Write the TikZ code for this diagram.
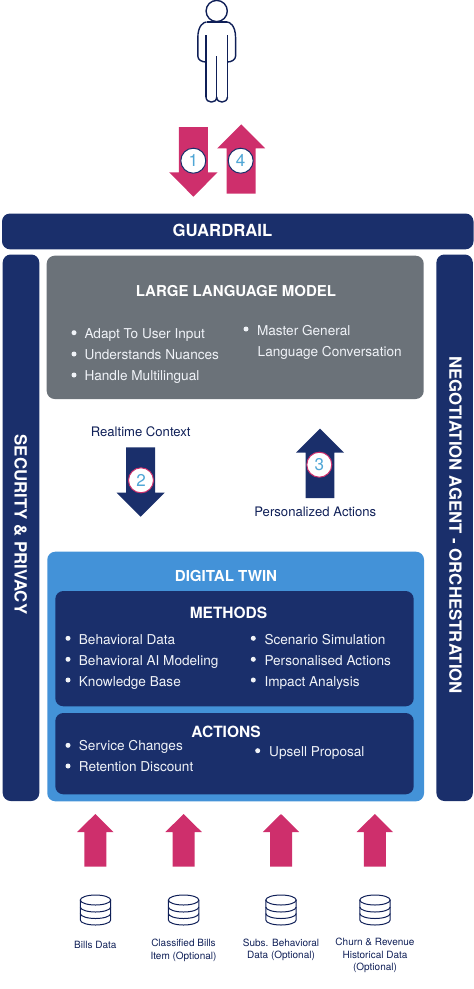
\documentclass[tikz,border=0pt]{standalone}
\usepackage{fontspec}
\setmainfont{TeX Gyre Heros}
\definecolor{navy}{HTML}{1A2F6B}
\definecolor{pinkc}{HTML}{CE2F6C}
\definecolor{grayc}{HTML}{6B7279}
\definecolor{bluec}{HTML}{4392D8}
\definecolor{numc}{HTML}{4FA6D6}
\definecolor{inkc}{HTML}{0F1F57}
\definecolor{softw}{HTML}{F0F3F8}
\tikzset{
 panel/.style={fill=#1,draw=none,rounded corners=8pt},
 lbl/.style={inner sep=0pt,anchor=base,text=inkc,font=\fontsize{13.1}{15}\selectfont},
 blt/.style={inner sep=0pt,anchor=base west,text=softw,font=\fontsize{13.6}{16}\selectfont},
 ttl/.style={inner sep=0pt,anchor=base,text=white,font=\fontsize{#1}{18}\selectfont\bfseries},
 ttl/.default=15.5,
 small/.style={inner sep=0pt,align=center,text=inkc,font=\fontsize{10}{12.2}\selectfont},
 numb/.style={circle,fill=white,draw=#1,line width=1pt,minimum size=25pt,inner sep=0pt,text=numc,font=\fontsize{17}{18}\selectfont},
 dot/.style={circle,fill=softw,minimum size=5pt,inner sep=0pt},
}
\newcommand{\vertarr}[7]{\fill[#1] (#2,#3) -- (#2+#6,#4) -- (#2+#7,#4) -- (#2+#7,#5) -- (#2-#7,#5) -- (#2-#7,#4) -- (#2-#6,#4) -- cycle;}
\newcommand{\dbicon}[3]{%
 \begin{scope}[shift={(#2,#3)},draw=inkc,line width=1pt]
 \draw (0,-10) ellipse (15.2 and 5);
 \draw (-15.2,-10) -- (-15.2,10) arc[start angle=180,end angle=0,x radius=15.2,y radius=5] -- (15.2,-10);
 \draw (-15.2,-3) arc[start angle=180,end angle=0,x radius=15.2,y radius=5];
 \draw (-15.2,3.5) arc[start angle=180,end angle=0,x radius=15.2,y radius=5];
 \coordinate (#1) at (0,0);
 \end{scope}}
\begin{document}
\begin{tikzpicture}[x=1pt,y=-1pt]
\useasboundingbox (0,0) rectangle (474,989);
% person
\begin{scope}[draw=inkc,line width=1.4pt,line join=round]
\draw (216.7,11) circle (10.6);
\draw (206,97) -- (206,35) (227.4,97) -- (227.4,35);
\draw (216.7,97) -- (216.7,55.7);
\draw (206.5,22) .. controls (204,22) and (197.8,25) .. (197.8,38) -- (197.8,56) .. controls (197.8,60) and (202,62) .. (206,62);
\draw (227,22) .. controls (229.5,22) and (235.6,25) .. (235.6,38) -- (235.6,56) .. controls (235.6,60) and (231,62) .. (227.4,62);
\draw (206.5,22) -- (227,22);
\draw (206,97) .. controls (206,103.5) and (216.7,104) .. (216.7,97) .. controls (216.7,104) and (227.4,103.5) .. (227.4,97);
\end{scope}
% top arrows
\vertarr{pinkc}{193.4}{196.7}{172.3}{127}{24.2}{14.5}
\vertarr{pinkc}{241.2}{124.3}{148.3}{193.7}{24}{14.5}
\node[numb=navy] (n1) at (193.3,160.7) {1};
\node[numb=navy] (n4) at (240.7,160.7) {4};
% guardrail and sides
\fill[panel=navy] (2,213.5) rectangle (473.5,249.3);
\fill[panel=navy] (2.7,254.5) rectangle (39.3,801);
\fill[panel=navy] (436.4,254.5) rectangle (472.8,801);
\node[ttl=16.7] (gr) at (222.5,236.7) {GUARDRAIL};
\node[ttl=16.8,rotate=-90,anchor=center] (sec) at (20.7,524.5) {SECURITY \& PRIVACY};
\node[ttl=16.8,rotate=-90,anchor=center] (neg) at (455.5,525) {NEGOTIATION AGENT - ORCHESTRATION};
% LLM
\fill[panel=grayc] (46.7,255.7) rectangle (423.7,399);
\node[ttl=15] (llm) at (236,296.7) {LARGE LANGUAGE MODEL};
\node[dot] (d1) at (74,332.7) {}; \node[blt] (t1) at (84.3,338) {Adapt To User Input};
\node[dot] (d2) at (74,354) {}; \node[blt] (t2) at (84.3,359.7) {Understands Nuances};
\node[dot] (d3) at (74,375) {}; \node[blt] (t3) at (84.3,380.7) {Handle Multilingual};
\node[dot] (d4) at (246,329) {}; \node[blt] (t4) at (256.8,335) {Master General};
\node[blt] (t5) at (257.5,356.7) {Language Conversation};
% middle arrows
\node[lbl] (rc) at (140.7,436) {Realtime Context};
\vertarr{navy}{140.7}{516.7}{492.7}{447.3}{24}{14.5}
\node[numb=pinkc] (n2) at (141,480.3) {2};
\vertarr{navy}{320}{428.7}{452.7}{498}{24}{14.3}
\node[numb=pinkc] (n3) at (319.3,464.7) {3};
\node[lbl] (pa) at (315.3,516) {Personalized Actions};
% digital twin
\fill[panel=bluec] (47.3,551.7) rectangle (424,801.3);
\fill[panel=navy] (55.3,591) rectangle (413.7,706.3);
\fill[panel=navy] (55.3,713) rectangle (413.7,794.3);
\node[ttl=15.1] (dt) at (226,581) {DIGITAL TWIN};
\node[ttl] (me) at (228.5,618.3) {METHODS};
\node[dot] (m1) at (68,638.3) {}; \node[blt] (mt1) at (78.7,644) {Behavioral Data};
\node[dot] (m2) at (68,659.3) {}; \node[blt] (mt2) at (78.7,665) {Behavioral AI Modeling};
\node[dot] (m3) at (68,680) {}; \node[blt] (mt3) at (78.7,686) {Knowledge Base};
\node[dot] (m4) at (253.3,638.3) {}; \node[blt] (mt4) at (264.3,644) {Scenario Simulation};
\node[dot] (m5) at (253.3,659.3) {}; \node[blt] (mt5) at (264.3,665) {Personalised Actions};
\node[dot] (m6) at (253.3,680) {}; \node[blt] (mt6) at (264.3,686) {Impact Analysis};
\node[ttl] (ac) at (226,737.7) {ACTIONS};
\node[dot] (a1) at (68,745.3) {}; \node[blt] (at1) at (78.7,750.7) {Service Changes};
\node[dot] (a2) at (68,766) {}; \node[blt] (at2) at (78.7,771.7) {Retention Discount};
\node[dot] (a3) at (257.7,750.7) {}; \node[blt] (at3) at (269,756) {Upsell Proposal};
% bottom arrows
\vertarr{pinkc}{95.3}{814}{832}{866.7}{18.2}{11}
\vertarr{pinkc}{183.6}{814}{832}{866.7}{18.2}{11}
\vertarr{pinkc}{281}{814}{832}{866.7}{18.2}{11}
\vertarr{pinkc}{374.8}{814}{832}{866.7}{18.2}{11}
\dbicon{db1}{95.5}{910}
\dbicon{db2}{183.6}{910}
\dbicon{db3}{281}{910}
\dbicon{db4}{375}{910}
\node[small] (s1) at (95.3,945) {Bills Data};
\node[small] (s2) at (183.5,950.3) {Classified Bills\\Item (Optional)};
\node[small] (s3) at (281,950) {Subs. Behavioral\\Data (Optional)};
\node[small] (s4) at (375,955.5) {Churn \& Revenue\\Historical Data\\(Optional)};
\end{tikzpicture}
\end{document}
